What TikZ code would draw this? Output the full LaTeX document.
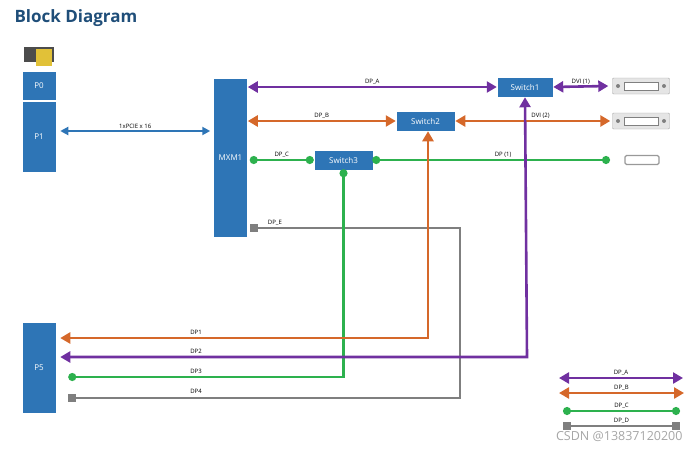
\documentclass[tikz,border=0pt]{standalone}
\usepackage{fontspec}
\setmainfont{Open Sans}
\usetikzlibrary{arrows.meta}
\definecolor{boxblue}{HTML}{2E75B6}
\definecolor{titleblue}{HTML}{1F4E79}
\definecolor{dpa}{HTML}{7030A0}
\definecolor{dpb}{HTML}{D5682A}
\definecolor{dpc}{HTML}{2DB14E}
\definecolor{dpd}{HTML}{7F7F7F}
\definecolor{pcie}{HTML}{2E75B6}
\tikzset{
  tri/.tip={Triangle[length=10pt,width=11pt]},
  ptri/.tip={Triangle[length=8pt,width=8pt]},
  dot/.tip={Circle[length=8pt]},
  sq/.tip={Square[length=8pt]}
}
\begin{document}
\begin{tikzpicture}[x=1pt,y=-1pt,
  blk/.style={draw=white, line width=0.5pt, fill=boxblue, text=white, font=\fontsize{8}{9}\selectfont, inner sep=0pt},
  lbl/.style={font=\fontsize{6}{7}\selectfont, inner sep=1pt},
  wire/.style={line width=2.6pt},
  port/.style={draw=gray!70, fill=gray!20, rounded corners=1pt, minimum width=57pt, minimum height=16pt, inner sep=0pt}
]
\useasboundingbox (0,0) rectangle (700,452);

% title
\node[anchor=west, text=titleblue, font=\fontsize{17}{18}\bfseries\selectfont] (title) at (11,18) {Block Diagram};

% board icon
\fill[black!70] (24,47) rectangle (54,62);
\fill[yellow!50!brown] (36,49) rectangle (52,66);

% blocks
\node[blk, minimum width=34pt, minimum height=29pt] (p0) at (39,86) {P0};
\node[blk, minimum width=34pt, minimum height=71pt] (p1) at (39,136.5) {P1};
\node[blk, minimum width=34pt, minimum height=91pt] (p5) at (39,367.5) {P5};
\node[blk, minimum width=34pt, minimum height=159pt] (mxm) at (230.5,157.5) {MXM1};
\node[blk, minimum width=56pt, minimum height=20pt] (sw1) at (525,87) {Switch1};
\node[blk, minimum width=59pt, minimum height=20pt] (sw2) at (425.5,121) {Switch2};
\node[blk, minimum width=59pt, minimum height=20pt] (sw3) at (343.5,160) {Switch3};

% output connectors
\node[port] (dvi1) at (641,86) {};
\node[port] (dvi2) at (641,121) {};
\foreach \n in {dvi1,dvi2}{
  \draw[gray, fill=white] ([xshift=-17pt,yshift=-4pt]\n.center) rectangle ([xshift=17pt,yshift=4pt]\n.center);
  \fill[gray] ([xshift=-23pt]\n.center) circle (2pt) ([xshift=23pt]\n.center) circle (2pt);
}
\node[draw=gray!80, fill=white, line width=1.2pt, rounded corners=1.5pt, minimum width=34pt, minimum height=9pt, inner sep=0pt] (hdmi) at (642,160) {};

% PCIe
\draw[pcie, wire, ptri-ptri] ([xshift=4pt]p1.east|-0,131) -- node[lbl, above, text=black] {1xPCIE x 16} ([xshift=-3pt]mxm.west|-0,131);

% DP_A
\draw[dpa, wire, tri-tri] (mxm.east|-sw1.west) -- node[lbl, above, text=black] {DP\_A} (sw1.west);
\coordinate (dvi1w) at ([xshift=-4pt]dvi1.west);
\draw[dpa, wire, tri-tri] (sw1.east) -- node[lbl, above, text=black] {DVI (1)} (dvi1w);

% DP_B
\draw[dpb, wire, tri-tri] (mxm.east|-sw2.west) -- node[lbl, above, text=black] {DP\_B} (sw2.west);
\coordinate (dvi2w) at ([xshift=-2pt]dvi2.west);
\draw[dpb, wire, tri-tri] (sw2.east) -- node[lbl, above, pos=0.55, text=black] {DVI (2)} (dvi2w);

% DP_C
\draw[dpc, wire, dot-dot] ([xshift=2pt]mxm.east|-sw3.west) -- node[lbl, above, text=black] {DP\_C} (sw3.west);
\coordinate (dp1end) at (610,160);
\draw[dpc, wire, dot-dot] ([xshift=-1pt]sw3.east) -- node[lbl, above, pos=0.55, text=black] {DP (1)} (dp1end);

% DP_E -> DP4
\coordinate (e1) at (460,228);
\coordinate (p5d4) at ([xshift=12pt]p5.east|-0,398);
\draw[dpd, wire, sq-sq] ([xshift=2pt]mxm.east|-0,228) -- node[lbl, above, pos=0.12, text=black] {DP\_E} (e1) |- (p5d4);
\node[lbl] (l4) at (196,391) {DP4};

% Switch3 -> DP3
\coordinate (p5d3) at ([xshift=12pt]p5.east|-0,377);
\draw[dpc, wire, dot-dot] ([yshift=1pt]sw3.south) |- (p5d3);
\node[lbl] (l3) at (196,371) {DP3};

% Switch2 -> DP1
\coordinate (p5d1) at ([xshift=4pt]p5.east|-0,338);
\coordinate (s2c) at (428,338);
\draw[dpb, wire, tri-tri] (p5d1) -- (s2c) -- (s2c|-sw2.south);
\node[lbl] (l1) at (196,332) {DP1};

% Switch1 -> DP2
\coordinate (p5d2) at ([xshift=4pt]p5.east|-0,357);
\coordinate (s1c) at (527,357);
\draw[dpa, wire, tri-tri] (p5d2) -- (s1c) -- (sw1.south);
\node[lbl] (l2) at (196,351) {DP2};

% legend
\coordinate (la1) at (559,378); \coordinate (la2) at (683,378);
\draw[dpa, wire, tri-tri] (la1) -- node[lbl, above, text=black] {DP\_A} (la2);
\coordinate (lb1) at (559,393); \coordinate (lb2) at (684,393);
\draw[dpb, wire, tri-tri] (lb1) -- node[lbl, above, text=black] {DP\_B} (lb2);
\coordinate (lc1) at (563,411); \coordinate (lc2) at (680,411);
\draw[dpc, wire, dot-dot] (lc1) -- node[lbl, above, text=black] {DP\_C} (lc2);
\coordinate (ld1) at (563,426); \coordinate (ld2) at (680,426);
\draw[dpd, wire, sq-sq] (ld1) -- node[lbl, above, text=black] {DP\_D} (ld2);

% watermark
\node[text=gray!70, font=\fontsize{12.5}{13}\selectfont, anchor=east] (wm) at (686,437) {CSDN @13837120200};
\end{tikzpicture}
\end{document}
